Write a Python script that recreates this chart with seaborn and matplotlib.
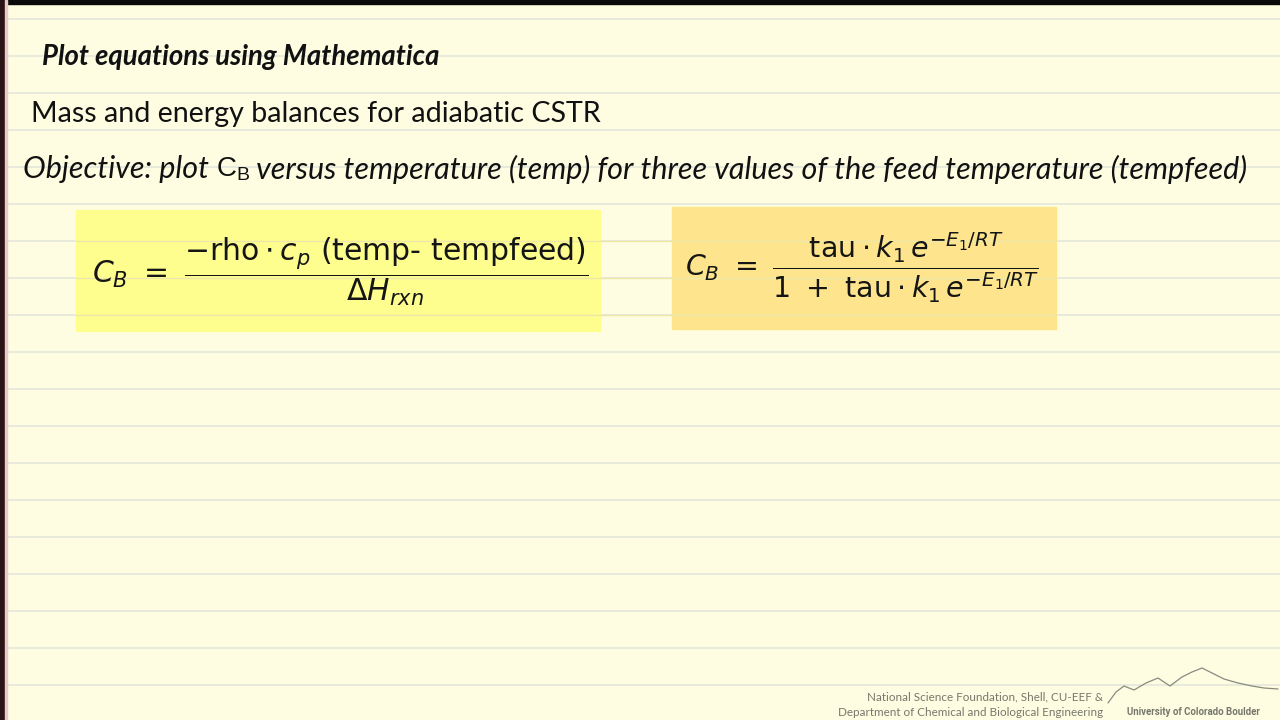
import numpy as np
import seaborn as sns
import matplotlib.pyplot as plt
from matplotlib.patches import Rectangle

# Slide text
heading = "Plot equations using Mathematica"
subtitle = "Mass and energy balances for adiabatic CSTR"
objective_parts = ["Objective: plot ", "C", "B",
                   " versus temperature (temp) for three values of the feed temperature (tempfeed)"]
eq_left = r"$C_B\ =\ \dfrac{-\mathrm{rho}\cdot c_p\ (\mathrm{temp}\text{-}\ \mathrm{tempfeed})}{\Delta H_{rxn}}$"
eq_right = r"$C_B\ =\ \dfrac{\mathrm{tau}\cdot k_1\, e^{-E_1/RT}}{1\ +\ \mathrm{tau}\cdot k_1\, e^{-E_1/RT}}$"
credits = ["National Science Foundation, Shell, CU-EEF &",
           "Department of Chemical and Biological Engineering"]
university = "University of Colorado Boulder"

# rough sketch of the mountain logo (decoration)
logo_x = [1108, 1116, 1124, 1134, 1146, 1158, 1170, 1182, 1192, 1202, 1212, 1224, 1238, 1252, 1264, 1278]
logo_y = [703, 692, 686, 690, 683, 678, 686, 677, 672, 668, 673, 679, 683, 686, 688, 689]

paper = "#fefde2"
rule_color = "#e6e8dc"
box_left = "#ffff8a"
box_right = "#ffe489"
grey = "#77776c"

sns.set_theme(style="white")
plt.rcParams["font.family"] = ["Lato", "DejaVu Sans"]
plt.rcParams["mathtext.fontset"] = "custom"
plt.rcParams["mathtext.rm"] = "DejaVu Sans"
plt.rcParams["mathtext.it"] = "DejaVu Sans:italic"

fig = plt.figure(figsize=(12.8, 7.2), dpi=100)
fig.patch.set_facecolor(paper)
ax = fig.add_axes([0, 0, 1, 1])
ax.set_facecolor(paper)
ax.set_xlim(0, 1280)
ax.set_ylim(720, 0)
ax.set_axis_off()

# notebook rules
rules = np.arange(19, 700, 37)
ax.hlines(rules, 8, 1280, color=rule_color, lw=1.3, zorder=1)

# frame edges
ax.add_patch(Rectangle((0, 0), 1280, 4, color="#0a0a0a", zorder=5))
ax.add_patch(Rectangle((0, 0), 4.5, 720, color="#2a1416", zorder=5))
ax.add_patch(Rectangle((4.5, 0), 2.5, 720, color="#ecc9c4", zorder=5))

# highlighted equation boxes
ax.add_patch(Rectangle((76, 210), 524, 121, color=box_left, zorder=2, alpha=0.95))
ax.add_patch(Rectangle((672, 207), 384, 122, color=box_right, zorder=2, alpha=0.95))
ax.hlines(rules[(rules > 207) & (rules < 331)], 76, 1056, color="#eee8a8", lw=1.0, zorder=2.5)

ax.text(42, 57, heading, fontsize=19.8, fontweight="bold", fontstyle="italic",
        va="center", color="#111111", zorder=6)
ax.text(31, 114, subtitle, fontsize=20.6, va="center", color="#111111", zorder=6)

# objective line, pieces placed one after another
fig.canvas.draw()
renderer = fig.canvas.get_renderer()
inv = ax.transData.inverted()
x = 23
y = 169
t = ax.text(x, y, objective_parts[0], fontsize=22, fontstyle="italic", va="center",
            color="#111111", zorder=6)
x = inv.transform(t.get_window_extent(renderer).get_points())[1][0]
t = ax.text(x, y, objective_parts[1], fontsize=20, family=["Liberation Sans"], va="center",
            color="#111111", zorder=6)
x = inv.transform(t.get_window_extent(renderer).get_points())[1][0]
t = ax.text(x, y + 6, objective_parts[2], fontsize=14, family=["Liberation Sans"], va="center",
            color="#111111", zorder=6)
x = inv.transform(t.get_window_extent(renderer).get_points())[1][0]
ax.text(x, y, objective_parts[3], fontsize=22, fontstyle="italic", va="center",
        color="#111111", zorder=6)

ax.text(340, 272, eq_left, fontsize=21.5, ha="center", va="center", color="#151515", zorder=6)
ax.text(862, 268, eq_right, fontsize=20.5, ha="center", va="center", color="#151515", zorder=6)

# credits
ax.text(1103, 697, credits[0], fontsize=8.4, ha="right", va="center", color=grey, zorder=6)
ax.text(1103, 712, credits[1], fontsize=8.4, ha="right", va="center", color=grey, zorder=6)
ax.text(1193, 712, university, fontsize=6.9, fontweight="bold", ha="center", va="center",
        family=["Liberation Sans Narrow", "Roboto", "DejaVu Sans"], color=grey, zorder=6)
sns.lineplot(x=logo_x, y=logo_y, ax=ax, color="#8a8a80", lw=0.9, sort=False, zorder=6)

fig.savefig("out.png", dpi=100, facecolor=paper)
